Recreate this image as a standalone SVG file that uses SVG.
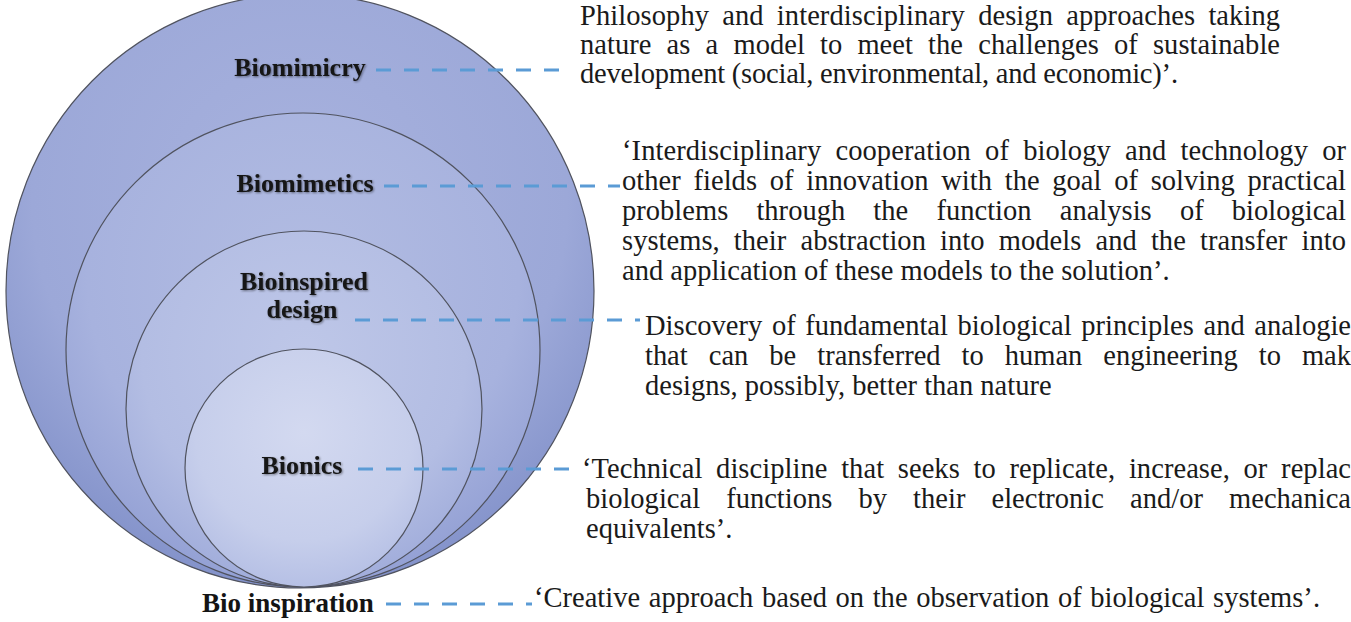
<svg xmlns="http://www.w3.org/2000/svg" width="1351" height="622" viewBox="0 0 1351 622">
<defs>
<radialGradient id="g1" cx="50%" cy="35%" r="65%"><stop offset="0" stop-color="#a8b2de"/><stop offset="0.7" stop-color="#9ca8d8"/><stop offset="1" stop-color="#8392ca"/></radialGradient>
<radialGradient id="g2" cx="50%" cy="35%" r="65%"><stop offset="0" stop-color="#b2bce2"/><stop offset="0.7" stop-color="#a7b2de"/><stop offset="1" stop-color="#93a0d4"/></radialGradient>
<radialGradient id="g3" cx="50%" cy="35%" r="65%"><stop offset="0" stop-color="#bec7e8"/><stop offset="0.7" stop-color="#b3bde3"/><stop offset="1" stop-color="#a1addb"/></radialGradient>
<radialGradient id="g4" cx="50%" cy="35%" r="65%"><stop offset="0" stop-color="#d3d9f0"/><stop offset="0.7" stop-color="#c6ceeb"/><stop offset="1" stop-color="#b6c0e5"/></radialGradient>
<filter id="sh" x="-10%" y="-30%" width="120%" height="160%"><feDropShadow dx="1" dy="1" stdDeviation="0.8" flood-color="#000" flood-opacity="0.45"/></filter>
</defs>
<style>
.ring{stroke:#50535f;stroke-width:1.2}
.lbl{font-family:"Liberation Serif","Times New Roman",serif;font-weight:bold;font-size:26px;fill:#141414;text-anchor:middle}
.txt{font-family:"Liberation Serif","Times New Roman",serif;font-size:28.5px;fill:#1a1a1a}
.dash{stroke:#5b9bd5;stroke-width:3;stroke-dasharray:15 13;fill:none}
</style>
<rect width="1351" height="622" fill="#ffffff"/>
<g id="biomimicry">
<ellipse class="ring" cx="300" cy="291" rx="294" ry="297" fill="url(#g1)"/>
<text class="lbl" x="300" y="76" filter="url(#sh)">Biomimicry</text>
</g>
<g id="biomimetics">
<circle class="ring" cx="303" cy="350" r="237" fill="url(#g2)"/>
<text class="lbl" x="305" y="192" filter="url(#sh)">Biomimetics</text>
</g>
<g id="bioinspired-design">
<circle class="ring" cx="304" cy="409" r="178" fill="url(#g3)"/>
<text class="lbl" x="304" y="290" filter="url(#sh)">Bioinspired</text>
<text class="lbl" x="302" y="318" filter="url(#sh)">design</text>
</g>
<g id="bionics">
<circle class="ring" cx="304" cy="468" r="119" fill="url(#g4)"/>
<text class="lbl" x="302" y="474" filter="url(#sh)">Bionics</text>
</g>
<g id="bio-inspiration">
<text class="lbl" x="288" y="612" style="font-size:27px">Bio inspiration</text>
</g>
<g id="connectors">
<line class="dash" x1="376" y1="70" x2="572" y2="70"/>
<line class="dash" x1="384" y1="186" x2="620" y2="186"/>
<line class="dash" x1="355" y1="320" x2="640" y2="320"/>
<line class="dash" x1="358" y1="469" x2="580" y2="469"/>
<line class="dash" x1="386" y1="604" x2="532" y2="604"/>
</g>
<g id="desc-biomimicry">
<text class="txt" x="580" y="25" word-spacing="6" textLength="700" lengthAdjust="spacing">Philosophy and interdisciplinary design approaches taking</text>
<text class="txt" x="580" y="54" word-spacing="8" textLength="700" lengthAdjust="spacing">nature as a model to meet the challenges of sustainable</text>
<text class="txt" x="580" y="83" textLength="598" lengthAdjust="spacing">development (social, environmental, and economic)’.</text>
</g>
<g id="desc-biomimetics">
<text class="txt" x="622" y="160" word-spacing="7" textLength="724" lengthAdjust="spacing">‘Interdisciplinary cooperation of biology and technology or</text>
<text class="txt" x="622" y="190" word-spacing="5.5" textLength="724" lengthAdjust="spacing">other fields of innovation with the goal of solving practical</text>
<text class="txt" x="622" y="220" word-spacing="21" textLength="724" lengthAdjust="spacing">problems through the function analysis of biological</text>
<text class="txt" x="622" y="250" word-spacing="7" textLength="724" lengthAdjust="spacing">systems, their abstraction into models and the transfer into</text>
<text class="txt" x="622" y="280">and application of these models to the solution’.</text>
</g>
<g id="desc-bioinspired">
<text class="txt" x="645" y="335" word-spacing="2.5" textLength="706" lengthAdjust="spacing">Discovery of fundamental biological principles and analogie</text>
<text class="txt" x="645" y="365" word-spacing="14" textLength="706" lengthAdjust="spacing">that can be transferred to human engineering to mak</text>
<text class="txt" x="645" y="395">designs, possibly, better than nature</text>
</g>
<g id="desc-bionics">
<text class="txt" x="582" y="478" word-spacing="6.5" textLength="769" lengthAdjust="spacing">‘Technical discipline that seeks to replicate, increase, or replac</text>
<text class="txt" x="586" y="508" word-spacing="19" textLength="765" lengthAdjust="spacing">biological functions by their electronic and/or mechanica</text>
<text class="txt" x="586" y="538">equivalents’.</text>
</g>
<g id="desc-bio-inspiration">
<text class="txt" x="534" y="607" word-spacing="1.5" textLength="786" lengthAdjust="spacing">‘Creative approach based on the observation of biological systems’.</text>
</g>
</svg>
